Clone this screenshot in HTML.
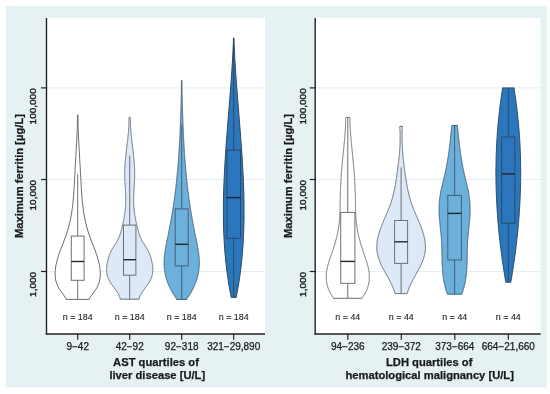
<!DOCTYPE html>
<html><head><meta charset="utf-8"><style>
html,body{margin:0;padding:0;background:#fff;width:550px;height:394px;overflow:hidden}
svg{display:block;will-change:transform}
text{font-family:"Liberation Sans",sans-serif;fill:#1a1a1a;stroke:#1a1a1a;stroke-width:0.25px}
.tk{font-size:10px}
.n{font-size:8.9px;stroke-width:0.1px}
.tt{font-size:11.2px;font-weight:bold}
</style></head><body>
<svg width="550" height="394" viewBox="0 0 550 394">
<rect x="6" y="6" width="541" height="381.4" fill="#e5f1f2"/>
<rect x="46.5" y="18" width="218.5" height="316.2" fill="#ffffff"/>
<line x1="46.5" y1="87.9" x2="265" y2="87.9" stroke="#e3eef0" stroke-width="1"/>
<line x1="46.5" y1="179.5" x2="265" y2="179.5" stroke="#e3eef0" stroke-width="1"/>
<line x1="46.5" y1="271.5" x2="265" y2="271.5" stroke="#e3eef0" stroke-width="1"/>
<path d="M78.0,115.0 L78.0,116.0 L78.0,117.0 L78.0,118.0 L78.0,119.0 L78.0,120.0 L78.0,121.0 L78.0,122.0 L78.0,123.0 L78.0,124.0 L78.0,125.0 L78.0,126.0 L78.1,127.0 L78.1,128.0 L78.2,129.0 L78.2,130.0 L78.2,131.0 L78.3,132.0 L78.3,133.0 L78.4,134.0 L78.4,135.0 L78.5,136.0 L78.5,137.0 L78.6,138.0 L78.6,139.0 L78.7,140.0 L78.7,141.0 L78.8,142.0 L78.8,143.0 L78.9,144.0 L78.9,145.0 L79.0,146.0 L79.0,147.0 L79.1,148.0 L79.2,149.0 L79.2,150.0 L79.3,151.0 L79.3,152.0 L79.4,153.0 L79.4,154.0 L79.5,155.0 L79.5,156.0 L79.6,157.0 L79.7,158.0 L79.7,159.0 L79.8,160.0 L79.8,161.0 L79.9,162.0 L79.9,163.0 L80.0,164.0 L80.1,165.0 L80.1,166.0 L80.2,167.0 L80.2,168.0 L80.3,169.0 L80.3,170.0 L80.4,171.0 L80.4,172.0 L80.5,173.0 L80.5,174.0 L80.6,175.0 L80.7,176.0 L80.7,177.0 L80.8,178.0 L80.8,179.0 L80.9,180.0 L80.9,181.0 L81.0,182.0 L81.0,183.0 L81.1,184.0 L81.1,185.0 L81.2,186.0 L81.2,187.0 L81.3,188.0 L81.4,189.0 L81.4,190.0 L81.5,191.0 L81.5,192.0 L81.6,193.0 L81.7,194.0 L81.8,195.0 L81.8,196.0 L81.9,197.0 L82.0,198.0 L82.1,199.0 L82.2,200.0 L82.3,201.0 L82.4,202.0 L82.5,203.0 L82.6,204.0 L82.7,205.0 L82.8,206.0 L82.9,207.0 L83.1,208.0 L83.2,209.0 L83.4,210.0 L83.5,211.0 L83.6,212.0 L83.8,213.0 L84.0,214.0 L84.1,215.0 L84.3,216.0 L84.5,217.0 L84.7,218.0 L84.9,219.0 L85.1,220.0 L85.3,221.0 L85.5,222.0 L85.8,223.0 L86.0,224.0 L86.3,225.0 L86.5,226.0 L86.8,227.0 L87.1,228.0 L87.4,229.0 L87.6,230.0 L87.9,231.0 L88.3,232.0 L88.6,233.0 L88.9,234.0 L89.3,235.0 L89.6,236.0 L90.0,237.0 L90.3,238.0 L90.7,239.0 L91.1,240.0 L91.5,241.0 L91.8,242.0 L92.2,243.0 L92.6,244.0 L93.0,245.0 L93.4,246.0 L93.8,247.0 L94.2,248.0 L94.5,249.0 L94.9,250.0 L95.3,251.0 L95.6,252.0 L96.0,253.0 L96.3,254.0 L96.7,255.0 L97.0,256.0 L97.3,257.0 L97.6,258.0 L97.9,259.0 L98.2,260.0 L98.5,261.0 L98.7,262.0 L99.0,263.0 L99.2,264.0 L99.4,265.0 L99.6,266.0 L99.8,267.0 L99.9,268.0 L100.0,269.0 L100.1,270.0 L100.2,271.0 L100.3,272.0 L100.3,273.0 L100.3,274.0 L100.3,275.0 L100.2,276.0 L100.1,277.0 L100.0,278.0 L99.9,279.0 L99.7,280.0 L99.5,281.0 L99.2,282.0 L98.9,283.0 L98.5,284.0 L98.1,285.0 L97.7,286.0 L97.2,287.0 L96.7,288.0 L96.1,289.0 L95.4,290.0 L94.7,291.0 L94.0,292.0 L93.3,293.0 L92.5,294.0 L91.8,295.0 L91.1,296.0 L90.4,297.0 L89.8,298.0 L89.3,299.0 L89.3,299.4 L66.1,299.4 L66.1,299.0 L65.6,298.0 L65.0,297.0 L64.3,296.0 L63.6,295.0 L62.9,294.0 L62.1,293.0 L61.4,292.0 L60.7,291.0 L60.0,290.0 L59.3,289.0 L58.7,288.0 L58.2,287.0 L57.7,286.0 L57.3,285.0 L56.9,284.0 L56.5,283.0 L56.2,282.0 L55.9,281.0 L55.7,280.0 L55.5,279.0 L55.4,278.0 L55.3,277.0 L55.2,276.0 L55.1,275.0 L55.1,274.0 L55.1,273.0 L55.1,272.0 L55.2,271.0 L55.3,270.0 L55.4,269.0 L55.5,268.0 L55.6,267.0 L55.8,266.0 L56.0,265.0 L56.2,264.0 L56.4,263.0 L56.7,262.0 L56.9,261.0 L57.2,260.0 L57.5,259.0 L57.8,258.0 L58.1,257.0 L58.4,256.0 L58.7,255.0 L59.1,254.0 L59.4,253.0 L59.8,252.0 L60.1,251.0 L60.5,250.0 L60.9,249.0 L61.2,248.0 L61.6,247.0 L62.0,246.0 L62.4,245.0 L62.8,244.0 L63.2,243.0 L63.6,242.0 L63.9,241.0 L64.3,240.0 L64.7,239.0 L65.1,238.0 L65.4,237.0 L65.8,236.0 L66.1,235.0 L66.5,234.0 L66.8,233.0 L67.1,232.0 L67.5,231.0 L67.8,230.0 L68.0,229.0 L68.3,228.0 L68.6,227.0 L68.9,226.0 L69.1,225.0 L69.4,224.0 L69.6,223.0 L69.9,222.0 L70.1,221.0 L70.3,220.0 L70.5,219.0 L70.7,218.0 L70.9,217.0 L71.1,216.0 L71.3,215.0 L71.4,214.0 L71.6,213.0 L71.8,212.0 L71.9,211.0 L72.0,210.0 L72.2,209.0 L72.3,208.0 L72.5,207.0 L72.6,206.0 L72.7,205.0 L72.8,204.0 L72.9,203.0 L73.0,202.0 L73.1,201.0 L73.2,200.0 L73.3,199.0 L73.4,198.0 L73.5,197.0 L73.6,196.0 L73.6,195.0 L73.7,194.0 L73.8,193.0 L73.9,192.0 L73.9,191.0 L74.0,190.0 L74.0,189.0 L74.1,188.0 L74.2,187.0 L74.2,186.0 L74.3,185.0 L74.3,184.0 L74.4,183.0 L74.4,182.0 L74.5,181.0 L74.5,180.0 L74.6,179.0 L74.6,178.0 L74.7,177.0 L74.7,176.0 L74.8,175.0 L74.9,174.0 L74.9,173.0 L75.0,172.0 L75.0,171.0 L75.1,170.0 L75.1,169.0 L75.2,168.0 L75.2,167.0 L75.3,166.0 L75.3,165.0 L75.4,164.0 L75.5,163.0 L75.5,162.0 L75.6,161.0 L75.6,160.0 L75.7,159.0 L75.7,158.0 L75.8,157.0 L75.9,156.0 L75.9,155.0 L76.0,154.0 L76.0,153.0 L76.1,152.0 L76.1,151.0 L76.2,150.0 L76.2,149.0 L76.3,148.0 L76.4,147.0 L76.4,146.0 L76.5,145.0 L76.5,144.0 L76.6,143.0 L76.6,142.0 L76.7,141.0 L76.7,140.0 L76.8,139.0 L76.8,138.0 L76.9,137.0 L76.9,136.0 L77.0,135.0 L77.0,134.0 L77.1,133.0 L77.1,132.0 L77.2,131.0 L77.2,130.0 L77.2,129.0 L77.3,128.0 L77.3,127.0 L77.4,126.0 L77.4,125.0 L77.4,124.0 L77.4,123.0 L77.4,122.0 L77.4,121.0 L77.4,120.0 L77.4,119.0 L77.4,118.0 L77.4,117.0 L77.4,116.0 L77.4,115.0 Z" fill="#ffffff" stroke="#707070" stroke-width="1.0" stroke-linejoin="round"/>
<line x1="77.7" y1="174.1" x2="77.7" y2="236.1" stroke="#707070" stroke-width="1.0"/>
<line x1="77.7" y1="280.3" x2="77.7" y2="299.4" stroke="#707070" stroke-width="1.0"/>
<rect x="71.3" y="236.1" width="12.8" height="44.20000000000002" fill="none" stroke="#707070" stroke-width="1.0"/>
<line x1="71.3" y1="261.5" x2="84.10000000000001" y2="261.5" stroke="#262626" stroke-width="1.4"/>
<path d="M130.3,117.4 L130.3,118.4 L130.4,119.4 L130.4,120.4 L130.4,121.4 L130.4,122.4 L130.4,123.4 L130.5,124.4 L130.5,125.4 L130.6,126.4 L130.6,127.4 L130.7,128.4 L130.8,129.4 L130.9,130.4 L130.9,131.4 L131.0,132.4 L131.1,133.4 L131.2,134.4 L131.3,135.4 L131.4,136.4 L131.5,137.4 L131.6,138.4 L131.7,139.4 L131.8,140.4 L131.9,141.4 L132.1,142.4 L132.2,143.4 L132.3,144.4 L132.4,145.4 L132.5,146.4 L132.6,147.4 L132.8,148.4 L132.9,149.4 L133.0,150.4 L133.1,151.4 L133.2,152.4 L133.3,153.4 L133.4,154.4 L133.5,155.4 L133.6,156.4 L133.7,157.4 L133.8,158.4 L133.9,159.4 L134.0,160.4 L134.1,161.4 L134.2,162.4 L134.3,163.4 L134.3,164.4 L134.4,165.4 L134.5,166.4 L134.5,167.4 L134.6,168.4 L134.6,169.4 L134.6,170.4 L134.7,171.4 L134.7,172.4 L134.7,173.4 L134.7,174.4 L134.7,175.4 L134.7,176.4 L134.6,177.4 L134.6,178.4 L134.6,179.4 L134.5,180.4 L134.5,181.4 L134.4,182.4 L134.4,183.4 L134.3,184.4 L134.3,185.4 L134.2,186.4 L134.1,187.4 L134.1,188.4 L134.0,189.4 L134.0,190.4 L133.9,191.4 L133.9,192.4 L133.8,193.4 L133.8,194.4 L133.7,195.4 L133.7,196.4 L133.7,197.4 L133.7,198.4 L133.6,199.4 L133.6,200.4 L133.7,201.4 L133.7,202.4 L133.7,203.4 L133.7,204.4 L133.8,205.4 L133.9,206.4 L133.9,207.4 L134.0,208.4 L134.1,209.4 L134.2,210.4 L134.3,211.4 L134.4,212.4 L134.6,213.4 L134.7,214.4 L134.9,215.4 L135.0,216.4 L135.2,217.4 L135.4,218.4 L135.6,219.4 L135.8,220.4 L136.0,221.4 L136.2,222.4 L136.4,223.4 L136.6,224.4 L136.9,225.4 L137.1,226.4 L137.3,227.4 L137.6,228.4 L137.9,229.4 L138.1,230.4 L138.4,231.4 L138.7,232.4 L139.0,233.4 L139.3,234.4 L139.7,235.4 L140.0,236.4 L140.4,237.4 L140.9,238.4 L141.4,239.4 L141.9,240.4 L142.4,241.4 L143.0,242.4 L143.7,243.4 L144.3,244.4 L145.0,245.4 L145.6,246.4 L146.3,247.4 L146.9,248.4 L147.4,249.4 L147.9,250.4 L148.4,251.4 L148.9,252.4 L149.3,253.4 L149.7,254.4 L150.1,255.4 L150.5,256.4 L150.8,257.4 L151.1,258.4 L151.3,259.4 L151.6,260.4 L151.8,261.4 L152.0,262.4 L152.2,263.4 L152.4,264.4 L152.5,265.4 L152.6,266.4 L152.7,267.4 L152.7,268.4 L152.8,269.4 L152.8,270.4 L152.7,271.4 L152.6,272.4 L152.5,273.4 L152.3,274.4 L152.1,275.4 L151.8,276.4 L151.5,277.4 L151.1,278.4 L150.7,279.4 L150.2,280.4 L149.7,281.4 L149.1,282.4 L148.4,283.4 L147.8,284.4 L147.0,285.4 L146.3,286.4 L145.6,287.4 L144.8,288.4 L144.1,289.4 L143.4,290.4 L142.7,291.4 L142.0,292.4 L141.4,293.4 L140.8,294.4 L140.3,295.4 L139.9,296.4 L139.5,297.4 L139.3,298.4 L139.1,299.2 L120.3,299.2 L120.1,298.4 L119.9,297.4 L119.5,296.4 L119.1,295.4 L118.6,294.4 L118.0,293.4 L117.4,292.4 L116.7,291.4 L116.0,290.4 L115.3,289.4 L114.6,288.4 L113.8,287.4 L113.1,286.4 L112.4,285.4 L111.6,284.4 L111.0,283.4 L110.3,282.4 L109.7,281.4 L109.2,280.4 L108.7,279.4 L108.3,278.4 L107.9,277.4 L107.6,276.4 L107.3,275.4 L107.1,274.4 L106.9,273.4 L106.8,272.4 L106.7,271.4 L106.6,270.4 L106.6,269.4 L106.7,268.4 L106.7,267.4 L106.8,266.4 L106.9,265.4 L107.0,264.4 L107.2,263.4 L107.4,262.4 L107.6,261.4 L107.8,260.4 L108.1,259.4 L108.3,258.4 L108.6,257.4 L108.9,256.4 L109.3,255.4 L109.7,254.4 L110.1,253.4 L110.5,252.4 L111.0,251.4 L111.5,250.4 L112.0,249.4 L112.5,248.4 L113.1,247.4 L113.8,246.4 L114.4,245.4 L115.1,244.4 L115.7,243.4 L116.4,242.4 L117.0,241.4 L117.5,240.4 L118.0,239.4 L118.5,238.4 L119.0,237.4 L119.4,236.4 L119.7,235.4 L120.1,234.4 L120.4,233.4 L120.7,232.4 L121.0,231.4 L121.3,230.4 L121.5,229.4 L121.8,228.4 L122.1,227.4 L122.3,226.4 L122.5,225.4 L122.8,224.4 L123.0,223.4 L123.2,222.4 L123.4,221.4 L123.6,220.4 L123.8,219.4 L124.0,218.4 L124.2,217.4 L124.4,216.4 L124.5,215.4 L124.7,214.4 L124.8,213.4 L125.0,212.4 L125.1,211.4 L125.2,210.4 L125.3,209.4 L125.4,208.4 L125.5,207.4 L125.5,206.4 L125.6,205.4 L125.7,204.4 L125.7,203.4 L125.7,202.4 L125.7,201.4 L125.8,200.4 L125.8,199.4 L125.7,198.4 L125.7,197.4 L125.7,196.4 L125.7,195.4 L125.6,194.4 L125.6,193.4 L125.5,192.4 L125.5,191.4 L125.4,190.4 L125.4,189.4 L125.3,188.4 L125.3,187.4 L125.2,186.4 L125.1,185.4 L125.1,184.4 L125.0,183.4 L125.0,182.4 L124.9,181.4 L124.9,180.4 L124.8,179.4 L124.8,178.4 L124.8,177.4 L124.7,176.4 L124.7,175.4 L124.7,174.4 L124.7,173.4 L124.7,172.4 L124.7,171.4 L124.8,170.4 L124.8,169.4 L124.8,168.4 L124.9,167.4 L124.9,166.4 L125.0,165.4 L125.1,164.4 L125.1,163.4 L125.2,162.4 L125.3,161.4 L125.4,160.4 L125.5,159.4 L125.6,158.4 L125.7,157.4 L125.8,156.4 L125.9,155.4 L126.0,154.4 L126.1,153.4 L126.2,152.4 L126.3,151.4 L126.4,150.4 L126.5,149.4 L126.6,148.4 L126.8,147.4 L126.9,146.4 L127.0,145.4 L127.1,144.4 L127.2,143.4 L127.3,142.4 L127.5,141.4 L127.6,140.4 L127.7,139.4 L127.8,138.4 L127.9,137.4 L128.0,136.4 L128.1,135.4 L128.2,134.4 L128.3,133.4 L128.4,132.4 L128.5,131.4 L128.5,130.4 L128.6,129.4 L128.7,128.4 L128.8,127.4 L128.8,126.4 L128.9,125.4 L128.9,124.4 L129.0,123.4 L129.0,122.4 L129.0,121.4 L129.0,120.4 L129.0,119.4 L129.1,118.4 L129.1,117.4 Z" fill="#dde9f6" stroke="#69727c" stroke-width="1.0" stroke-linejoin="round"/>
<line x1="129.7" y1="155.7" x2="129.7" y2="225.1" stroke="#69727c" stroke-width="1.0"/>
<line x1="129.7" y1="275.2" x2="129.7" y2="299.2" stroke="#69727c" stroke-width="1.0"/>
<rect x="123.49999999999999" y="225.1" width="12.4" height="50.099999999999994" fill="none" stroke="#69727c" stroke-width="1.0"/>
<line x1="123.49999999999999" y1="259.7" x2="135.89999999999998" y2="259.7" stroke="#262626" stroke-width="1.4"/>
<path d="M182.0,80.5 L182.0,81.5 L182.0,82.5 L182.0,83.5 L182.0,84.5 L182.0,85.5 L182.0,86.5 L182.0,87.5 L182.0,88.5 L182.0,89.5 L182.0,90.5 L182.0,91.5 L182.0,92.5 L182.0,93.5 L182.0,94.5 L182.1,95.5 L182.1,96.5 L182.1,97.5 L182.1,98.5 L182.2,99.5 L182.2,100.5 L182.2,101.5 L182.3,102.5 L182.3,103.5 L182.3,104.5 L182.3,105.5 L182.4,106.5 L182.4,107.5 L182.4,108.5 L182.5,109.5 L182.5,110.5 L182.5,111.5 L182.6,112.5 L182.6,113.5 L182.6,114.5 L182.7,115.5 L182.7,116.5 L182.7,117.5 L182.8,118.5 L182.8,119.5 L182.8,120.5 L182.9,121.5 L182.9,122.5 L183.0,123.5 L183.0,124.5 L183.0,125.5 L183.1,126.5 L183.1,127.5 L183.2,128.5 L183.2,129.5 L183.3,130.5 L183.3,131.5 L183.3,132.5 L183.4,133.5 L183.4,134.5 L183.5,135.5 L183.5,136.5 L183.6,137.5 L183.6,138.5 L183.7,139.5 L183.7,140.5 L183.8,141.5 L183.8,142.5 L183.9,143.5 L183.9,144.5 L184.0,145.5 L184.1,146.5 L184.1,147.5 L184.2,148.5 L184.2,149.5 L184.3,150.5 L184.4,151.5 L184.4,152.5 L184.5,153.5 L184.6,154.5 L184.6,155.5 L184.7,156.5 L184.8,157.5 L184.8,158.5 L184.9,159.5 L185.0,160.5 L185.1,161.5 L185.1,162.5 L185.2,163.5 L185.3,164.5 L185.4,165.5 L185.5,166.5 L185.5,167.5 L185.6,168.5 L185.7,169.5 L185.8,170.5 L185.9,171.5 L186.0,172.5 L186.1,173.5 L186.2,174.5 L186.3,175.5 L186.4,176.5 L186.5,177.5 L186.6,178.5 L186.7,179.5 L186.8,180.5 L186.9,181.5 L187.0,182.5 L187.1,183.5 L187.2,184.5 L187.3,185.5 L187.4,186.5 L187.5,187.5 L187.7,188.5 L187.8,189.5 L187.9,190.5 L188.0,191.5 L188.2,192.5 L188.3,193.5 L188.4,194.5 L188.5,195.5 L188.7,196.5 L188.8,197.5 L188.9,198.5 L189.1,199.5 L189.2,200.5 L189.4,201.5 L189.5,202.5 L189.7,203.5 L189.8,204.5 L190.0,205.5 L190.1,206.5 L190.3,207.5 L190.4,208.5 L190.6,209.5 L190.7,210.5 L190.9,211.5 L191.1,212.5 L191.2,213.5 L191.4,214.5 L191.6,215.5 L191.8,216.5 L191.9,217.5 L192.1,218.5 L192.3,219.5 L192.5,220.5 L192.7,221.5 L192.8,222.5 L193.0,223.5 L193.2,224.5 L193.4,225.5 L193.6,226.5 L193.8,227.5 L194.0,228.5 L194.2,229.5 L194.4,230.5 L194.6,231.5 L194.7,232.5 L194.9,233.5 L195.1,234.5 L195.3,235.5 L195.5,236.5 L195.7,237.5 L195.9,238.5 L196.2,239.5 L196.4,240.5 L196.6,241.5 L196.8,242.5 L197.0,243.5 L197.2,244.5 L197.4,245.5 L197.5,246.5 L197.7,247.5 L197.9,248.5 L198.1,249.5 L198.2,250.5 L198.4,251.5 L198.5,252.5 L198.7,253.5 L198.8,254.5 L198.9,255.5 L199.0,256.5 L199.1,257.5 L199.2,258.5 L199.2,259.5 L199.3,260.5 L199.3,261.5 L199.3,262.5 L199.3,263.5 L199.3,264.5 L199.3,265.5 L199.2,266.5 L199.1,267.5 L199.0,268.5 L198.9,269.5 L198.8,270.5 L198.6,271.5 L198.5,272.5 L198.3,273.5 L198.1,274.5 L197.9,275.5 L197.6,276.5 L197.4,277.5 L197.1,278.5 L196.8,279.5 L196.5,280.5 L196.1,281.5 L195.8,282.5 L195.4,283.5 L195.0,284.5 L194.5,285.5 L194.1,286.5 L193.6,287.5 L193.1,288.5 L192.6,289.5 L192.1,290.5 L191.6,291.5 L191.0,292.5 L190.4,293.5 L189.8,294.5 L189.1,295.5 L188.5,296.5 L187.8,297.5 L187.1,298.5 L186.8,299.4 L176.6,299.4 L176.3,298.5 L175.6,297.5 L174.9,296.5 L174.3,295.5 L173.6,294.5 L173.0,293.5 L172.4,292.5 L171.8,291.5 L171.3,290.5 L170.8,289.5 L170.3,288.5 L169.8,287.5 L169.3,286.5 L168.9,285.5 L168.4,284.5 L168.0,283.5 L167.6,282.5 L167.3,281.5 L166.9,280.5 L166.6,279.5 L166.3,278.5 L166.0,277.5 L165.8,276.5 L165.5,275.5 L165.3,274.5 L165.1,273.5 L164.9,272.5 L164.8,271.5 L164.6,270.5 L164.5,269.5 L164.4,268.5 L164.3,267.5 L164.2,266.5 L164.1,265.5 L164.1,264.5 L164.1,263.5 L164.1,262.5 L164.1,261.5 L164.1,260.5 L164.2,259.5 L164.2,258.5 L164.3,257.5 L164.4,256.5 L164.5,255.5 L164.6,254.5 L164.7,253.5 L164.9,252.5 L165.0,251.5 L165.2,250.5 L165.3,249.5 L165.5,248.5 L165.7,247.5 L165.9,246.5 L166.0,245.5 L166.2,244.5 L166.4,243.5 L166.6,242.5 L166.8,241.5 L167.0,240.5 L167.2,239.5 L167.5,238.5 L167.7,237.5 L167.9,236.5 L168.1,235.5 L168.3,234.5 L168.5,233.5 L168.7,232.5 L168.8,231.5 L169.0,230.5 L169.2,229.5 L169.4,228.5 L169.6,227.5 L169.8,226.5 L170.0,225.5 L170.2,224.5 L170.4,223.5 L170.6,222.5 L170.7,221.5 L170.9,220.5 L171.1,219.5 L171.3,218.5 L171.5,217.5 L171.6,216.5 L171.8,215.5 L172.0,214.5 L172.2,213.5 L172.3,212.5 L172.5,211.5 L172.7,210.5 L172.8,209.5 L173.0,208.5 L173.1,207.5 L173.3,206.5 L173.4,205.5 L173.6,204.5 L173.7,203.5 L173.9,202.5 L174.0,201.5 L174.2,200.5 L174.3,199.5 L174.5,198.5 L174.6,197.5 L174.7,196.5 L174.9,195.5 L175.0,194.5 L175.1,193.5 L175.2,192.5 L175.4,191.5 L175.5,190.5 L175.6,189.5 L175.7,188.5 L175.9,187.5 L176.0,186.5 L176.1,185.5 L176.2,184.5 L176.3,183.5 L176.4,182.5 L176.5,181.5 L176.6,180.5 L176.7,179.5 L176.8,178.5 L176.9,177.5 L177.0,176.5 L177.1,175.5 L177.2,174.5 L177.3,173.5 L177.4,172.5 L177.5,171.5 L177.6,170.5 L177.7,169.5 L177.8,168.5 L177.9,167.5 L177.9,166.5 L178.0,165.5 L178.1,164.5 L178.2,163.5 L178.3,162.5 L178.3,161.5 L178.4,160.5 L178.5,159.5 L178.6,158.5 L178.6,157.5 L178.7,156.5 L178.8,155.5 L178.8,154.5 L178.9,153.5 L179.0,152.5 L179.0,151.5 L179.1,150.5 L179.2,149.5 L179.2,148.5 L179.3,147.5 L179.3,146.5 L179.4,145.5 L179.5,144.5 L179.5,143.5 L179.6,142.5 L179.6,141.5 L179.7,140.5 L179.7,139.5 L179.8,138.5 L179.8,137.5 L179.9,136.5 L179.9,135.5 L180.0,134.5 L180.0,133.5 L180.1,132.5 L180.1,131.5 L180.1,130.5 L180.2,129.5 L180.2,128.5 L180.3,127.5 L180.3,126.5 L180.4,125.5 L180.4,124.5 L180.4,123.5 L180.5,122.5 L180.5,121.5 L180.6,120.5 L180.6,119.5 L180.6,118.5 L180.7,117.5 L180.7,116.5 L180.7,115.5 L180.8,114.5 L180.8,113.5 L180.8,112.5 L180.9,111.5 L180.9,110.5 L180.9,109.5 L181.0,108.5 L181.0,107.5 L181.0,106.5 L181.1,105.5 L181.1,104.5 L181.1,103.5 L181.1,102.5 L181.2,101.5 L181.2,100.5 L181.2,99.5 L181.3,98.5 L181.3,97.5 L181.3,96.5 L181.3,95.5 L181.4,94.5 L181.4,93.5 L181.4,92.5 L181.4,91.5 L181.4,90.5 L181.4,89.5 L181.4,88.5 L181.4,87.5 L181.4,86.5 L181.4,85.5 L181.4,84.5 L181.4,83.5 L181.4,82.5 L181.4,81.5 L181.4,80.5 Z" fill="#6cb0dc" stroke="#46617a" stroke-width="1.0" stroke-linejoin="round"/>
<line x1="181.7" y1="124.5" x2="181.7" y2="208.9" stroke="#46617a" stroke-width="1.0"/>
<line x1="181.7" y1="265.9" x2="181.7" y2="299.4" stroke="#46617a" stroke-width="1.0"/>
<rect x="175.2" y="208.9" width="13.0" height="56.99999999999997" fill="none" stroke="#46617a" stroke-width="1.0"/>
<line x1="175.2" y1="244.3" x2="188.2" y2="244.3" stroke="#262626" stroke-width="1.4"/>
<path d="M234.0,38.0 L234.0,39.0 L234.0,40.0 L234.0,41.0 L234.0,42.0 L234.0,43.0 L234.1,44.0 L234.1,45.0 L234.2,46.0 L234.2,47.0 L234.3,48.0 L234.3,49.0 L234.4,50.0 L234.4,51.0 L234.5,52.0 L234.5,53.0 L234.6,54.0 L234.6,55.0 L234.7,56.0 L234.7,57.0 L234.8,58.0 L234.8,59.0 L234.9,60.0 L234.9,61.0 L235.0,62.0 L235.1,63.0 L235.1,64.0 L235.2,65.0 L235.3,66.0 L235.3,67.0 L235.4,68.0 L235.4,69.0 L235.5,70.0 L235.6,71.0 L235.6,72.0 L235.7,73.0 L235.8,74.0 L235.8,75.0 L235.9,76.0 L236.0,77.0 L236.1,78.0 L236.1,79.0 L236.2,80.0 L236.3,81.0 L236.3,82.0 L236.4,83.0 L236.5,84.0 L236.6,85.0 L236.6,86.0 L236.7,87.0 L236.8,88.0 L236.9,89.0 L236.9,90.0 L237.0,91.0 L237.1,92.0 L237.2,93.0 L237.3,94.0 L237.3,95.0 L237.4,96.0 L237.5,97.0 L237.6,98.0 L237.6,99.0 L237.7,100.0 L237.8,101.0 L237.9,102.0 L238.0,103.0 L238.0,104.0 L238.1,105.0 L238.2,106.0 L238.3,107.0 L238.4,108.0 L238.4,109.0 L238.5,110.0 L238.6,111.0 L238.7,112.0 L238.8,113.0 L238.8,114.0 L238.9,115.0 L239.0,116.0 L239.1,117.0 L239.2,118.0 L239.3,119.0 L239.3,120.0 L239.4,121.0 L239.5,122.0 L239.6,123.0 L239.7,124.0 L239.7,125.0 L239.8,126.0 L239.9,127.0 L240.0,128.0 L240.0,129.0 L240.1,130.0 L240.2,131.0 L240.3,132.0 L240.4,133.0 L240.4,134.0 L240.5,135.0 L240.6,136.0 L240.7,137.0 L240.7,138.0 L240.8,139.0 L240.9,140.0 L241.0,141.0 L241.0,142.0 L241.1,143.0 L241.2,144.0 L241.3,145.0 L241.3,146.0 L241.4,147.0 L241.5,148.0 L241.5,149.0 L241.6,150.0 L241.7,151.0 L241.7,152.0 L241.8,153.0 L241.9,154.0 L241.9,155.0 L242.0,156.0 L242.1,157.0 L242.1,158.0 L242.2,159.0 L242.3,160.0 L242.3,161.0 L242.4,162.0 L242.4,163.0 L242.5,164.0 L242.6,165.0 L242.6,166.0 L242.7,167.0 L242.7,168.0 L242.8,169.0 L242.8,170.0 L242.9,171.0 L242.9,172.0 L243.0,173.0 L243.0,174.0 L243.1,175.0 L243.1,176.0 L243.2,177.0 L243.2,178.0 L243.3,179.0 L243.3,180.0 L243.4,181.0 L243.4,182.0 L243.4,183.0 L243.5,184.0 L243.5,185.0 L243.6,186.0 L243.6,187.0 L243.6,188.0 L243.7,189.0 L243.7,190.0 L243.7,191.0 L243.8,192.0 L243.8,193.0 L243.8,194.0 L243.8,195.0 L243.9,196.0 L243.9,197.0 L243.9,198.0 L243.9,199.0 L243.9,200.0 L244.0,201.0 L244.0,202.0 L244.0,203.0 L244.0,204.0 L244.0,205.0 L244.0,206.0 L244.0,207.0 L244.0,208.0 L244.0,209.0 L244.0,210.0 L244.0,211.0 L244.0,212.0 L244.0,213.0 L244.0,214.0 L244.0,215.0 L244.0,216.0 L244.0,217.0 L244.0,218.0 L244.0,219.0 L244.0,220.0 L244.0,221.0 L243.9,222.0 L243.9,223.0 L243.9,224.0 L243.9,225.0 L243.8,226.0 L243.8,227.0 L243.8,228.0 L243.8,229.0 L243.7,230.0 L243.7,231.0 L243.7,232.0 L243.6,233.0 L243.6,234.0 L243.5,235.0 L243.5,236.0 L243.4,237.0 L243.4,238.0 L243.3,239.0 L243.3,240.0 L243.2,241.0 L243.2,242.0 L243.1,243.0 L243.1,244.0 L243.0,245.0 L242.9,246.0 L242.9,247.0 L242.8,248.0 L242.7,249.0 L242.6,250.0 L242.6,251.0 L242.5,252.0 L242.4,253.0 L242.3,254.0 L242.2,255.0 L242.1,256.0 L242.0,257.0 L241.9,258.0 L241.9,259.0 L241.8,260.0 L241.7,261.0 L241.6,262.0 L241.4,263.0 L241.3,264.0 L241.2,265.0 L241.1,266.0 L241.0,267.0 L240.9,268.0 L240.8,269.0 L240.6,270.0 L240.5,271.0 L240.4,272.0 L240.2,273.0 L240.1,274.0 L240.0,275.0 L239.8,276.0 L239.7,277.0 L239.5,278.0 L239.4,279.0 L239.2,280.0 L239.1,281.0 L238.9,282.0 L238.8,283.0 L238.6,284.0 L238.5,285.0 L238.3,286.0 L238.1,287.0 L237.9,288.0 L237.8,289.0 L237.6,290.0 L237.4,291.0 L237.2,292.0 L237.0,293.0 L236.8,294.0 L236.6,295.0 L236.4,296.0 L236.2,297.0 L236.3,297.4 L231.1,297.4 L231.2,297.0 L231.0,296.0 L230.8,295.0 L230.6,294.0 L230.4,293.0 L230.2,292.0 L230.0,291.0 L229.8,290.0 L229.6,289.0 L229.5,288.0 L229.3,287.0 L229.1,286.0 L228.9,285.0 L228.8,284.0 L228.6,283.0 L228.5,282.0 L228.3,281.0 L228.2,280.0 L228.0,279.0 L227.9,278.0 L227.7,277.0 L227.6,276.0 L227.4,275.0 L227.3,274.0 L227.2,273.0 L227.0,272.0 L226.9,271.0 L226.8,270.0 L226.6,269.0 L226.5,268.0 L226.4,267.0 L226.3,266.0 L226.2,265.0 L226.1,264.0 L226.0,263.0 L225.8,262.0 L225.7,261.0 L225.6,260.0 L225.5,259.0 L225.5,258.0 L225.4,257.0 L225.3,256.0 L225.2,255.0 L225.1,254.0 L225.0,253.0 L224.9,252.0 L224.8,251.0 L224.8,250.0 L224.7,249.0 L224.6,248.0 L224.5,247.0 L224.5,246.0 L224.4,245.0 L224.3,244.0 L224.3,243.0 L224.2,242.0 L224.2,241.0 L224.1,240.0 L224.1,239.0 L224.0,238.0 L224.0,237.0 L223.9,236.0 L223.9,235.0 L223.8,234.0 L223.8,233.0 L223.7,232.0 L223.7,231.0 L223.7,230.0 L223.6,229.0 L223.6,228.0 L223.6,227.0 L223.6,226.0 L223.5,225.0 L223.5,224.0 L223.5,223.0 L223.5,222.0 L223.4,221.0 L223.4,220.0 L223.4,219.0 L223.4,218.0 L223.4,217.0 L223.4,216.0 L223.4,215.0 L223.4,214.0 L223.4,213.0 L223.4,212.0 L223.4,211.0 L223.4,210.0 L223.4,209.0 L223.4,208.0 L223.4,207.0 L223.4,206.0 L223.4,205.0 L223.4,204.0 L223.4,203.0 L223.4,202.0 L223.4,201.0 L223.5,200.0 L223.5,199.0 L223.5,198.0 L223.5,197.0 L223.5,196.0 L223.6,195.0 L223.6,194.0 L223.6,193.0 L223.6,192.0 L223.7,191.0 L223.7,190.0 L223.7,189.0 L223.8,188.0 L223.8,187.0 L223.8,186.0 L223.9,185.0 L223.9,184.0 L224.0,183.0 L224.0,182.0 L224.0,181.0 L224.1,180.0 L224.1,179.0 L224.2,178.0 L224.2,177.0 L224.3,176.0 L224.3,175.0 L224.4,174.0 L224.4,173.0 L224.5,172.0 L224.5,171.0 L224.6,170.0 L224.6,169.0 L224.7,168.0 L224.7,167.0 L224.8,166.0 L224.8,165.0 L224.9,164.0 L225.0,163.0 L225.0,162.0 L225.1,161.0 L225.1,160.0 L225.2,159.0 L225.3,158.0 L225.3,157.0 L225.4,156.0 L225.5,155.0 L225.5,154.0 L225.6,153.0 L225.7,152.0 L225.7,151.0 L225.8,150.0 L225.9,149.0 L225.9,148.0 L226.0,147.0 L226.1,146.0 L226.1,145.0 L226.2,144.0 L226.3,143.0 L226.4,142.0 L226.4,141.0 L226.5,140.0 L226.6,139.0 L226.7,138.0 L226.7,137.0 L226.8,136.0 L226.9,135.0 L227.0,134.0 L227.0,133.0 L227.1,132.0 L227.2,131.0 L227.3,130.0 L227.4,129.0 L227.4,128.0 L227.5,127.0 L227.6,126.0 L227.7,125.0 L227.7,124.0 L227.8,123.0 L227.9,122.0 L228.0,121.0 L228.1,120.0 L228.1,119.0 L228.2,118.0 L228.3,117.0 L228.4,116.0 L228.5,115.0 L228.6,114.0 L228.6,113.0 L228.7,112.0 L228.8,111.0 L228.9,110.0 L229.0,109.0 L229.0,108.0 L229.1,107.0 L229.2,106.0 L229.3,105.0 L229.4,104.0 L229.4,103.0 L229.5,102.0 L229.6,101.0 L229.7,100.0 L229.8,99.0 L229.8,98.0 L229.9,97.0 L230.0,96.0 L230.1,95.0 L230.1,94.0 L230.2,93.0 L230.3,92.0 L230.4,91.0 L230.5,90.0 L230.5,89.0 L230.6,88.0 L230.7,87.0 L230.8,86.0 L230.8,85.0 L230.9,84.0 L231.0,83.0 L231.1,82.0 L231.1,81.0 L231.2,80.0 L231.3,79.0 L231.3,78.0 L231.4,77.0 L231.5,76.0 L231.6,75.0 L231.6,74.0 L231.7,73.0 L231.8,72.0 L231.8,71.0 L231.9,70.0 L232.0,69.0 L232.0,68.0 L232.1,67.0 L232.1,66.0 L232.2,65.0 L232.3,64.0 L232.3,63.0 L232.4,62.0 L232.5,61.0 L232.5,60.0 L232.6,59.0 L232.6,58.0 L232.7,57.0 L232.7,56.0 L232.8,55.0 L232.8,54.0 L232.9,53.0 L232.9,52.0 L233.0,51.0 L233.0,50.0 L233.1,49.0 L233.1,48.0 L233.2,47.0 L233.2,46.0 L233.3,45.0 L233.3,44.0 L233.4,43.0 L233.4,42.0 L233.4,41.0 L233.4,40.0 L233.4,39.0 L233.4,38.0 Z" fill="#2a77bd" stroke="#2d4a66" stroke-width="1.0" stroke-linejoin="round"/>
<line x1="233.7" y1="38" x2="233.7" y2="150.2" stroke="#2d4a66" stroke-width="1.0"/>
<line x1="233.7" y1="238.3" x2="233.7" y2="297.4" stroke="#2d4a66" stroke-width="1.0"/>
<rect x="226.89999999999998" y="150.2" width="13.6" height="88.10000000000002" fill="none" stroke="#2d4a66" stroke-width="1.0"/>
<line x1="226.89999999999998" y1="197.6" x2="240.5" y2="197.6" stroke="#262626" stroke-width="1.4"/>
<line x1="46.5" y1="18" x2="46.5" y2="334.6" stroke="#222" stroke-width="1.4"/>
<line x1="45.8" y1="333.9" x2="265" y2="333.9" stroke="#222" stroke-width="1.5"/>
<line x1="41.0" y1="87.9" x2="46.5" y2="87.9" stroke="#222" stroke-width="1.2"/>
<text x="0" y="0" transform="translate(36.4 88.30000000000001) rotate(-90) scale(1 0.97)" text-anchor="end" class="tk" style="stroke-width:0.4px">100,000</text>
<line x1="41.0" y1="179.5" x2="46.5" y2="179.5" stroke="#222" stroke-width="1.2"/>
<text x="0" y="0" transform="translate(36.4 179.9) rotate(-90) scale(1 0.97)" text-anchor="end" class="tk" style="stroke-width:0.4px">10,000</text>
<line x1="41.0" y1="271.5" x2="46.5" y2="271.5" stroke="#222" stroke-width="1.2"/>
<text x="0" y="0" transform="translate(36.4 271.9) rotate(-90) scale(1 0.97)" text-anchor="end" class="tk" style="stroke-width:0.4px">1,000</text>
<line x1="77.7" y1="333.9" x2="77.7" y2="339.8" stroke="#222" stroke-width="1.2"/>
<text x="0" y="0" transform="translate(77.7 350)" text-anchor="middle" class="tk">9−42</text>
<text x="0" y="0" transform="translate(77.7 320.2)" text-anchor="middle" class="n">n = 184</text>
<line x1="129.7" y1="333.9" x2="129.7" y2="339.8" stroke="#222" stroke-width="1.2"/>
<text x="0" y="0" transform="translate(129.7 350)" text-anchor="middle" class="tk">42−92</text>
<text x="0" y="0" transform="translate(129.7 320.2)" text-anchor="middle" class="n">n = 184</text>
<line x1="181.7" y1="333.9" x2="181.7" y2="339.8" stroke="#222" stroke-width="1.2"/>
<text x="0" y="0" transform="translate(181.7 350)" text-anchor="middle" class="tk">92−318</text>
<text x="0" y="0" transform="translate(181.7 320.2)" text-anchor="middle" class="n">n = 184</text>
<line x1="233.7" y1="333.9" x2="233.7" y2="339.8" stroke="#222" stroke-width="1.2"/>
<text x="0" y="0" transform="translate(233.7 350)" text-anchor="middle" class="tk">321−29,890</text>
<text x="0" y="0" transform="translate(233.7 320.2)" text-anchor="middle" class="n">n = 184</text>
<text x="23.0" y="176" transform="rotate(-90 23.0 176)" text-anchor="middle" class="tt">Maximum ferritin [µg/L]</text>
<rect x="315.2" y="18" width="225.50000000000006" height="316.2" fill="#ffffff"/>
<line x1="315.2" y1="87.9" x2="540.7" y2="87.9" stroke="#e3eef0" stroke-width="1"/>
<line x1="315.2" y1="179.5" x2="540.7" y2="179.5" stroke="#e3eef0" stroke-width="1"/>
<line x1="315.2" y1="271.5" x2="540.7" y2="271.5" stroke="#e3eef0" stroke-width="1"/>
<path d="M349.7,117.4 L349.9,118.4 L349.9,119.4 L349.9,120.4 L349.9,121.4 L350.0,122.4 L350.0,123.4 L350.0,124.4 L350.1,125.4 L350.1,126.4 L350.2,127.4 L350.2,128.4 L350.3,129.4 L350.3,130.4 L350.4,131.4 L350.5,132.4 L350.6,133.4 L350.6,134.4 L350.7,135.4 L350.8,136.4 L350.9,137.4 L350.9,138.4 L351.0,139.4 L351.1,140.4 L351.2,141.4 L351.3,142.4 L351.4,143.4 L351.5,144.4 L351.6,145.4 L351.7,146.4 L351.8,147.4 L351.9,148.4 L352.0,149.4 L352.1,150.4 L352.2,151.4 L352.3,152.4 L352.4,153.4 L352.5,154.4 L352.6,155.4 L352.7,156.4 L352.8,157.4 L352.9,158.4 L353.0,159.4 L353.1,160.4 L353.2,161.4 L353.3,162.4 L353.4,163.4 L353.5,164.4 L353.5,165.4 L353.6,166.4 L353.7,167.4 L353.8,168.4 L353.9,169.4 L354.0,170.4 L354.1,171.4 L354.1,172.4 L354.2,173.4 L354.3,174.4 L354.4,175.4 L354.4,176.4 L354.5,177.4 L354.6,178.4 L354.6,179.4 L354.7,180.4 L354.7,181.4 L354.8,182.4 L354.8,183.4 L354.9,184.4 L354.9,185.4 L355.0,186.4 L355.0,187.4 L355.1,188.4 L355.1,189.4 L355.1,190.4 L355.2,191.4 L355.2,192.4 L355.2,193.4 L355.3,194.4 L355.3,195.4 L355.3,196.4 L355.3,197.4 L355.4,198.4 L355.4,199.4 L355.4,200.4 L355.4,201.4 L355.4,202.4 L355.5,203.4 L355.5,204.4 L355.5,205.4 L355.5,206.4 L355.5,207.4 L355.6,208.4 L355.6,209.4 L355.6,210.4 L355.6,211.4 L355.6,212.4 L355.7,213.4 L355.7,214.4 L355.8,215.4 L355.8,216.4 L355.9,217.4 L355.9,218.4 L356.0,219.4 L356.1,220.4 L356.2,221.4 L356.3,222.4 L356.4,223.4 L356.6,224.4 L356.7,225.4 L356.8,226.4 L357.0,227.4 L357.2,228.4 L357.3,229.4 L357.5,230.4 L357.7,231.4 L357.9,232.4 L358.1,233.4 L358.3,234.4 L358.5,235.4 L358.8,236.4 L359.0,237.4 L359.3,238.4 L359.5,239.4 L359.8,240.4 L360.1,241.4 L360.3,242.4 L360.6,243.4 L360.9,244.4 L361.2,245.4 L361.5,246.4 L361.8,247.4 L362.2,248.4 L362.5,249.4 L362.8,250.4 L363.2,251.4 L363.5,252.4 L363.8,253.4 L364.2,254.4 L364.5,255.4 L364.9,256.4 L365.2,257.4 L365.6,258.4 L365.9,259.4 L366.2,260.4 L366.6,261.4 L366.9,262.4 L367.2,263.4 L367.4,264.4 L367.7,265.4 L368.0,266.4 L368.2,267.4 L368.4,268.4 L368.6,269.4 L368.8,270.4 L369.0,271.4 L369.1,272.4 L369.2,273.4 L369.3,274.4 L369.3,275.4 L369.4,276.4 L369.4,277.4 L369.3,278.4 L369.3,279.4 L369.2,280.4 L369.1,281.4 L368.9,282.4 L368.8,283.4 L368.5,284.4 L368.3,285.4 L368.0,286.4 L367.7,287.4 L367.4,288.4 L367.0,289.4 L366.6,290.4 L366.1,291.4 L365.6,292.4 L365.1,293.4 L364.5,294.4 L363.9,295.4 L363.2,296.4 L362.6,297.4 L362.1,298.3 L333.5,298.3 L333.0,297.4 L332.4,296.4 L331.7,295.4 L331.1,294.4 L330.5,293.4 L330.0,292.4 L329.5,291.4 L329.0,290.4 L328.6,289.4 L328.2,288.4 L327.9,287.4 L327.6,286.4 L327.3,285.4 L327.1,284.4 L326.8,283.4 L326.7,282.4 L326.5,281.4 L326.4,280.4 L326.3,279.4 L326.3,278.4 L326.2,277.4 L326.2,276.4 L326.3,275.4 L326.3,274.4 L326.4,273.4 L326.5,272.4 L326.6,271.4 L326.8,270.4 L327.0,269.4 L327.2,268.4 L327.4,267.4 L327.6,266.4 L327.9,265.4 L328.2,264.4 L328.4,263.4 L328.7,262.4 L329.0,261.4 L329.4,260.4 L329.7,259.4 L330.0,258.4 L330.4,257.4 L330.7,256.4 L331.1,255.4 L331.4,254.4 L331.8,253.4 L332.1,252.4 L332.4,251.4 L332.8,250.4 L333.1,249.4 L333.4,248.4 L333.8,247.4 L334.1,246.4 L334.4,245.4 L334.7,244.4 L335.0,243.4 L335.3,242.4 L335.5,241.4 L335.8,240.4 L336.1,239.4 L336.3,238.4 L336.6,237.4 L336.8,236.4 L337.1,235.4 L337.3,234.4 L337.5,233.4 L337.7,232.4 L337.9,231.4 L338.1,230.4 L338.3,229.4 L338.4,228.4 L338.6,227.4 L338.8,226.4 L338.9,225.4 L339.0,224.4 L339.2,223.4 L339.3,222.4 L339.4,221.4 L339.5,220.4 L339.6,219.4 L339.7,218.4 L339.7,217.4 L339.8,216.4 L339.8,215.4 L339.9,214.4 L339.9,213.4 L340.0,212.4 L340.0,211.4 L340.0,210.4 L340.0,209.4 L340.0,208.4 L340.1,207.4 L340.1,206.4 L340.1,205.4 L340.1,204.4 L340.1,203.4 L340.2,202.4 L340.2,201.4 L340.2,200.4 L340.2,199.4 L340.2,198.4 L340.3,197.4 L340.3,196.4 L340.3,195.4 L340.3,194.4 L340.4,193.4 L340.4,192.4 L340.4,191.4 L340.5,190.4 L340.5,189.4 L340.5,188.4 L340.6,187.4 L340.6,186.4 L340.7,185.4 L340.7,184.4 L340.8,183.4 L340.8,182.4 L340.9,181.4 L340.9,180.4 L341.0,179.4 L341.0,178.4 L341.1,177.4 L341.2,176.4 L341.2,175.4 L341.3,174.4 L341.4,173.4 L341.5,172.4 L341.5,171.4 L341.6,170.4 L341.7,169.4 L341.8,168.4 L341.9,167.4 L342.0,166.4 L342.1,165.4 L342.1,164.4 L342.2,163.4 L342.3,162.4 L342.4,161.4 L342.5,160.4 L342.6,159.4 L342.7,158.4 L342.8,157.4 L342.9,156.4 L343.0,155.4 L343.1,154.4 L343.2,153.4 L343.3,152.4 L343.4,151.4 L343.5,150.4 L343.6,149.4 L343.7,148.4 L343.8,147.4 L343.9,146.4 L344.0,145.4 L344.1,144.4 L344.2,143.4 L344.3,142.4 L344.4,141.4 L344.5,140.4 L344.6,139.4 L344.7,138.4 L344.7,137.4 L344.8,136.4 L344.9,135.4 L345.0,134.4 L345.0,133.4 L345.1,132.4 L345.2,131.4 L345.3,130.4 L345.3,129.4 L345.4,128.4 L345.4,127.4 L345.5,126.4 L345.5,125.4 L345.6,124.4 L345.6,123.4 L345.6,122.4 L345.7,121.4 L345.7,120.4 L345.7,119.4 L345.7,118.4 L345.9,117.4 Z" fill="#ffffff" stroke="#707070" stroke-width="1.0" stroke-linejoin="round"/>
<line x1="347.8" y1="117.4" x2="347.8" y2="212.4" stroke="#707070" stroke-width="1.0"/>
<line x1="347.8" y1="283.3" x2="347.8" y2="298.3" stroke="#707070" stroke-width="1.0"/>
<rect x="340.7" y="212.4" width="14.2" height="70.9" fill="none" stroke="#707070" stroke-width="1.0"/>
<line x1="340.7" y1="261.4" x2="354.90000000000003" y2="261.4" stroke="#262626" stroke-width="1.4"/>
<path d="M402.5,126.3 L402.4,127.3 L402.4,128.3 L402.3,129.3 L402.2,130.3 L402.2,131.3 L402.1,132.3 L402.1,133.3 L402.1,134.3 L402.1,135.3 L402.1,136.3 L402.1,137.3 L402.1,138.3 L402.1,139.3 L402.1,140.3 L402.1,141.3 L402.1,142.3 L402.2,143.3 L402.2,144.3 L402.2,145.3 L402.3,146.3 L402.3,147.3 L402.4,148.3 L402.5,149.3 L402.5,150.3 L402.6,151.3 L402.7,152.3 L402.8,153.3 L402.8,154.3 L402.9,155.3 L403.0,156.3 L403.1,157.3 L403.2,158.3 L403.3,159.3 L403.5,160.3 L403.6,161.3 L403.7,162.3 L403.8,163.3 L403.9,164.3 L404.0,165.3 L404.2,166.3 L404.3,167.3 L404.4,168.3 L404.6,169.3 L404.7,170.3 L404.8,171.3 L405.0,172.3 L405.1,173.3 L405.3,174.3 L405.4,175.3 L405.5,176.3 L405.7,177.3 L405.8,178.3 L406.0,179.3 L406.1,180.3 L406.3,181.3 L406.5,182.3 L406.6,183.3 L406.8,184.3 L407.0,185.3 L407.2,186.3 L407.3,187.3 L407.5,188.3 L407.7,189.3 L407.9,190.3 L408.2,191.3 L408.4,192.3 L408.6,193.3 L408.9,194.3 L409.1,195.3 L409.4,196.3 L409.6,197.3 L409.9,198.3 L410.2,199.3 L410.5,200.3 L410.8,201.3 L411.1,202.3 L411.4,203.3 L411.8,204.3 L412.1,205.3 L412.5,206.3 L412.9,207.3 L413.3,208.3 L413.7,209.3 L414.1,210.3 L414.5,211.3 L414.9,212.3 L415.4,213.3 L415.8,214.3 L416.2,215.3 L416.7,216.3 L417.1,217.3 L417.5,218.3 L418.0,219.3 L418.4,220.3 L418.8,221.3 L419.2,222.3 L419.6,223.3 L420.0,224.3 L420.4,225.3 L420.8,226.3 L421.2,227.3 L421.6,228.3 L421.9,229.3 L422.3,230.3 L422.6,231.3 L422.9,232.3 L423.2,233.3 L423.5,234.3 L423.8,235.3 L424.0,236.3 L424.3,237.3 L424.5,238.3 L424.7,239.3 L424.9,240.3 L425.0,241.3 L425.1,242.3 L425.3,243.3 L425.3,244.3 L425.4,245.3 L425.4,246.3 L425.4,247.3 L425.4,248.3 L425.4,249.3 L425.3,250.3 L425.2,251.3 L425.0,252.3 L424.9,253.3 L424.7,254.3 L424.4,255.3 L424.2,256.3 L423.9,257.3 L423.6,258.3 L423.3,259.3 L422.9,260.3 L422.5,261.3 L422.1,262.3 L421.7,263.3 L421.2,264.3 L420.8,265.3 L420.3,266.3 L419.8,267.3 L419.3,268.3 L418.7,269.3 L418.2,270.3 L417.6,271.3 L417.1,272.3 L416.5,273.3 L416.0,274.3 L415.4,275.3 L414.9,276.3 L414.3,277.3 L413.8,278.3 L413.2,279.3 L412.7,280.3 L412.2,281.3 L411.7,282.3 L411.2,283.3 L410.7,284.3 L410.2,285.3 L409.8,286.3 L409.3,287.3 L408.9,288.3 L408.6,289.3 L408.2,290.3 L407.9,291.3 L407.6,292.3 L407.3,293.3 L407.2,293.6 L395.0,293.6 L394.9,293.3 L394.6,292.3 L394.3,291.3 L394.0,290.3 L393.6,289.3 L393.3,288.3 L392.9,287.3 L392.4,286.3 L392.0,285.3 L391.5,284.3 L391.0,283.3 L390.5,282.3 L390.0,281.3 L389.5,280.3 L389.0,279.3 L388.4,278.3 L387.9,277.3 L387.3,276.3 L386.8,275.3 L386.2,274.3 L385.7,273.3 L385.1,272.3 L384.6,271.3 L384.0,270.3 L383.5,269.3 L382.9,268.3 L382.4,267.3 L381.9,266.3 L381.4,265.3 L381.0,264.3 L380.5,263.3 L380.1,262.3 L379.7,261.3 L379.3,260.3 L378.9,259.3 L378.6,258.3 L378.3,257.3 L378.0,256.3 L377.8,255.3 L377.5,254.3 L377.3,253.3 L377.2,252.3 L377.0,251.3 L376.9,250.3 L376.8,249.3 L376.8,248.3 L376.8,247.3 L376.8,246.3 L376.8,245.3 L376.9,244.3 L376.9,243.3 L377.1,242.3 L377.2,241.3 L377.3,240.3 L377.5,239.3 L377.7,238.3 L377.9,237.3 L378.2,236.3 L378.4,235.3 L378.7,234.3 L379.0,233.3 L379.3,232.3 L379.6,231.3 L379.9,230.3 L380.3,229.3 L380.6,228.3 L381.0,227.3 L381.4,226.3 L381.8,225.3 L382.2,224.3 L382.6,223.3 L383.0,222.3 L383.4,221.3 L383.8,220.3 L384.2,219.3 L384.7,218.3 L385.1,217.3 L385.5,216.3 L386.0,215.3 L386.4,214.3 L386.8,213.3 L387.3,212.3 L387.7,211.3 L388.1,210.3 L388.5,209.3 L388.9,208.3 L389.3,207.3 L389.7,206.3 L390.1,205.3 L390.4,204.3 L390.8,203.3 L391.1,202.3 L391.4,201.3 L391.7,200.3 L392.0,199.3 L392.3,198.3 L392.6,197.3 L392.8,196.3 L393.1,195.3 L393.3,194.3 L393.6,193.3 L393.8,192.3 L394.0,191.3 L394.3,190.3 L394.5,189.3 L394.7,188.3 L394.9,187.3 L395.0,186.3 L395.2,185.3 L395.4,184.3 L395.6,183.3 L395.7,182.3 L395.9,181.3 L396.1,180.3 L396.2,179.3 L396.4,178.3 L396.5,177.3 L396.7,176.3 L396.8,175.3 L396.9,174.3 L397.1,173.3 L397.2,172.3 L397.4,171.3 L397.5,170.3 L397.6,169.3 L397.8,168.3 L397.9,167.3 L398.0,166.3 L398.2,165.3 L398.3,164.3 L398.4,163.3 L398.5,162.3 L398.6,161.3 L398.7,160.3 L398.9,159.3 L399.0,158.3 L399.1,157.3 L399.2,156.3 L399.3,155.3 L399.4,154.3 L399.4,153.3 L399.5,152.3 L399.6,151.3 L399.7,150.3 L399.7,149.3 L399.8,148.3 L399.9,147.3 L399.9,146.3 L400.0,145.3 L400.0,144.3 L400.0,143.3 L400.1,142.3 L400.1,141.3 L400.1,140.3 L400.1,139.3 L400.1,138.3 L400.1,137.3 L400.1,136.3 L400.1,135.3 L400.1,134.3 L400.1,133.3 L400.1,132.3 L400.0,131.3 L400.0,130.3 L399.9,129.3 L399.8,128.3 L399.8,127.3 L399.8,126.3 Z" fill="#dde9f6" stroke="#69727c" stroke-width="1.0" stroke-linejoin="round"/>
<line x1="401.1" y1="167.4" x2="401.1" y2="220.5" stroke="#69727c" stroke-width="1.0"/>
<line x1="401.1" y1="263.4" x2="401.1" y2="293.6" stroke="#69727c" stroke-width="1.0"/>
<rect x="394.6" y="220.5" width="13.0" height="42.89999999999998" fill="none" stroke="#69727c" stroke-width="1.0"/>
<line x1="394.6" y1="241.8" x2="407.6" y2="241.8" stroke="#262626" stroke-width="1.4"/>
<path d="M457.4,125.5 L457.5,126.5 L457.6,127.5 L457.7,128.5 L457.8,129.5 L457.9,130.5 L458.0,131.5 L458.1,132.5 L458.2,133.5 L458.3,134.5 L458.4,135.5 L458.5,136.5 L458.6,137.5 L458.7,138.5 L458.8,139.5 L458.9,140.5 L459.0,141.5 L459.1,142.5 L459.2,143.5 L459.4,144.5 L459.5,145.5 L459.6,146.5 L459.7,147.5 L459.9,148.5 L460.0,149.5 L460.1,150.5 L460.3,151.5 L460.4,152.5 L460.6,153.5 L460.7,154.5 L460.8,155.5 L461.0,156.5 L461.2,157.5 L461.3,158.5 L461.5,159.5 L461.7,160.5 L461.8,161.5 L462.0,162.5 L462.2,163.5 L462.4,164.5 L462.6,165.5 L462.7,166.5 L462.9,167.5 L463.1,168.5 L463.3,169.5 L463.6,170.5 L463.8,171.5 L464.0,172.5 L464.2,173.5 L464.4,174.5 L464.7,175.5 L464.9,176.5 L465.1,177.5 L465.4,178.5 L465.6,179.5 L465.9,180.5 L466.1,181.5 L466.4,182.5 L466.6,183.5 L466.8,184.5 L467.1,185.5 L467.3,186.5 L467.5,187.5 L467.8,188.5 L468.0,189.5 L468.2,190.5 L468.4,191.5 L468.6,192.5 L468.7,193.5 L468.9,194.5 L469.1,195.5 L469.2,196.5 L469.4,197.5 L469.5,198.5 L469.6,199.5 L469.7,200.5 L469.8,201.5 L469.9,202.5 L469.9,203.5 L470.0,204.5 L470.0,205.5 L470.1,206.5 L470.1,207.5 L470.1,208.5 L470.1,209.5 L470.1,210.5 L470.1,211.5 L470.1,212.5 L470.1,213.5 L470.0,214.5 L470.0,215.5 L469.9,216.5 L469.9,217.5 L469.8,218.5 L469.7,219.5 L469.6,220.5 L469.5,221.5 L469.4,222.5 L469.3,223.5 L469.2,224.5 L469.1,225.5 L469.0,226.5 L468.9,227.5 L468.8,228.5 L468.7,229.5 L468.6,230.5 L468.5,231.5 L468.4,232.5 L468.3,233.5 L468.2,234.5 L468.1,235.5 L468.0,236.5 L467.9,237.5 L467.8,238.5 L467.8,239.5 L467.7,240.5 L467.6,241.5 L467.6,242.5 L467.5,243.5 L467.5,244.5 L467.5,245.5 L467.4,246.5 L467.4,247.5 L467.4,248.5 L467.3,249.5 L467.3,250.5 L467.3,251.5 L467.3,252.5 L467.3,253.5 L467.2,254.5 L467.2,255.5 L467.2,256.5 L467.2,257.5 L467.2,258.5 L467.1,259.5 L467.1,260.5 L467.1,261.5 L467.1,262.5 L467.0,263.5 L467.0,264.5 L467.0,265.5 L466.9,266.5 L466.9,267.5 L466.8,268.5 L466.7,269.5 L466.7,270.5 L466.6,271.5 L466.5,272.5 L466.4,273.5 L466.3,274.5 L466.2,275.5 L466.1,276.5 L465.9,277.5 L465.8,278.5 L465.6,279.5 L465.5,280.5 L465.3,281.5 L465.1,282.5 L464.9,283.5 L464.7,284.5 L464.4,285.5 L464.2,286.5 L463.9,287.5 L463.6,288.5 L463.3,289.5 L463.0,290.5 L462.7,291.5 L462.3,292.5 L461.9,293.5 L461.8,294.2 L447.4,294.2 L447.3,293.5 L446.9,292.5 L446.5,291.5 L446.2,290.5 L445.9,289.5 L445.6,288.5 L445.3,287.5 L445.0,286.5 L444.8,285.5 L444.5,284.5 L444.3,283.5 L444.1,282.5 L443.9,281.5 L443.7,280.5 L443.6,279.5 L443.4,278.5 L443.3,277.5 L443.1,276.5 L443.0,275.5 L442.9,274.5 L442.8,273.5 L442.7,272.5 L442.6,271.5 L442.5,270.5 L442.5,269.5 L442.4,268.5 L442.3,267.5 L442.3,266.5 L442.2,265.5 L442.2,264.5 L442.2,263.5 L442.1,262.5 L442.1,261.5 L442.1,260.5 L442.1,259.5 L442.0,258.5 L442.0,257.5 L442.0,256.5 L442.0,255.5 L442.0,254.5 L441.9,253.5 L441.9,252.5 L441.9,251.5 L441.9,250.5 L441.9,249.5 L441.8,248.5 L441.8,247.5 L441.8,246.5 L441.7,245.5 L441.7,244.5 L441.7,243.5 L441.6,242.5 L441.6,241.5 L441.5,240.5 L441.4,239.5 L441.4,238.5 L441.3,237.5 L441.2,236.5 L441.1,235.5 L441.0,234.5 L440.9,233.5 L440.8,232.5 L440.7,231.5 L440.6,230.5 L440.5,229.5 L440.4,228.5 L440.3,227.5 L440.2,226.5 L440.1,225.5 L440.0,224.5 L439.9,223.5 L439.8,222.5 L439.7,221.5 L439.6,220.5 L439.5,219.5 L439.4,218.5 L439.3,217.5 L439.3,216.5 L439.2,215.5 L439.2,214.5 L439.1,213.5 L439.1,212.5 L439.1,211.5 L439.1,210.5 L439.1,209.5 L439.1,208.5 L439.1,207.5 L439.1,206.5 L439.2,205.5 L439.2,204.5 L439.3,203.5 L439.3,202.5 L439.4,201.5 L439.5,200.5 L439.6,199.5 L439.7,198.5 L439.8,197.5 L440.0,196.5 L440.1,195.5 L440.3,194.5 L440.5,193.5 L440.6,192.5 L440.8,191.5 L441.0,190.5 L441.2,189.5 L441.4,188.5 L441.7,187.5 L441.9,186.5 L442.1,185.5 L442.4,184.5 L442.6,183.5 L442.8,182.5 L443.1,181.5 L443.3,180.5 L443.6,179.5 L443.8,178.5 L444.1,177.5 L444.3,176.5 L444.5,175.5 L444.8,174.5 L445.0,173.5 L445.2,172.5 L445.4,171.5 L445.6,170.5 L445.9,169.5 L446.1,168.5 L446.3,167.5 L446.5,166.5 L446.6,165.5 L446.8,164.5 L447.0,163.5 L447.2,162.5 L447.4,161.5 L447.5,160.5 L447.7,159.5 L447.9,158.5 L448.0,157.5 L448.2,156.5 L448.4,155.5 L448.5,154.5 L448.6,153.5 L448.8,152.5 L448.9,151.5 L449.1,150.5 L449.2,149.5 L449.3,148.5 L449.5,147.5 L449.6,146.5 L449.7,145.5 L449.8,144.5 L450.0,143.5 L450.1,142.5 L450.2,141.5 L450.3,140.5 L450.4,139.5 L450.5,138.5 L450.6,137.5 L450.7,136.5 L450.8,135.5 L450.9,134.5 L451.0,133.5 L451.1,132.5 L451.2,131.5 L451.3,130.5 L451.4,129.5 L451.5,128.5 L451.6,127.5 L451.7,126.5 L451.8,125.5 Z" fill="#6cb0dc" stroke="#46617a" stroke-width="1.0" stroke-linejoin="round"/>
<line x1="454.6" y1="125.5" x2="454.6" y2="195.4" stroke="#46617a" stroke-width="1.0"/>
<line x1="454.6" y1="260" x2="454.6" y2="294.2" stroke="#46617a" stroke-width="1.0"/>
<rect x="447.8" y="195.4" width="13.6" height="64.6" fill="none" stroke="#46617a" stroke-width="1.0"/>
<line x1="447.8" y1="213.4" x2="461.40000000000003" y2="213.4" stroke="#262626" stroke-width="1.4"/>
<path d="M514.2,87.9 L514.1,88.9 L514.3,89.9 L514.4,90.9 L514.6,91.9 L514.7,92.9 L514.9,93.9 L515.0,94.9 L515.2,95.9 L515.3,96.9 L515.5,97.9 L515.6,98.9 L515.7,99.9 L515.9,100.9 L516.0,101.9 L516.2,102.9 L516.3,103.9 L516.4,104.9 L516.5,105.9 L516.7,106.9 L516.8,107.9 L516.9,108.9 L517.0,109.9 L517.1,110.9 L517.3,111.9 L517.4,112.9 L517.5,113.9 L517.6,114.9 L517.7,115.9 L517.8,116.9 L517.9,117.9 L518.0,118.9 L518.1,119.9 L518.2,120.9 L518.3,121.9 L518.4,122.9 L518.5,123.9 L518.6,124.9 L518.7,125.9 L518.8,126.9 L518.8,127.9 L518.9,128.9 L519.0,129.9 L519.1,130.9 L519.2,131.9 L519.2,132.9 L519.3,133.9 L519.4,134.9 L519.4,135.9 L519.5,136.9 L519.6,137.9 L519.6,138.9 L519.7,139.9 L519.8,140.9 L519.8,141.9 L519.9,142.9 L519.9,143.9 L520.0,144.9 L520.0,145.9 L520.1,146.9 L520.1,147.9 L520.2,148.9 L520.2,149.9 L520.2,150.9 L520.3,151.9 L520.3,152.9 L520.4,153.9 L520.4,154.9 L520.4,155.9 L520.5,156.9 L520.5,157.9 L520.5,158.9 L520.5,159.9 L520.5,160.9 L520.6,161.9 L520.6,162.9 L520.6,163.9 L520.6,164.9 L520.6,165.9 L520.6,166.9 L520.7,167.9 L520.7,168.9 L520.7,169.9 L520.7,170.9 L520.7,171.9 L520.7,172.9 L520.7,173.9 L520.7,174.9 L520.7,175.9 L520.7,176.9 L520.6,177.9 L520.6,178.9 L520.6,179.9 L520.6,180.9 L520.6,181.9 L520.6,182.9 L520.6,183.9 L520.5,184.9 L520.5,185.9 L520.5,186.9 L520.5,187.9 L520.4,188.9 L520.4,189.9 L520.4,190.9 L520.3,191.9 L520.3,192.9 L520.3,193.9 L520.2,194.9 L520.2,195.9 L520.2,196.9 L520.1,197.9 L520.1,198.9 L520.0,199.9 L520.0,200.9 L519.9,201.9 L519.9,202.9 L519.8,203.9 L519.8,204.9 L519.7,205.9 L519.6,206.9 L519.6,207.9 L519.5,208.9 L519.5,209.9 L519.4,210.9 L519.3,211.9 L519.3,212.9 L519.2,213.9 L519.1,214.9 L519.1,215.9 L519.0,216.9 L518.9,217.9 L518.8,218.9 L518.7,219.9 L518.7,220.9 L518.6,221.9 L518.5,222.9 L518.4,223.9 L518.3,224.9 L518.2,225.9 L518.1,226.9 L518.1,227.9 L518.0,228.9 L517.9,229.9 L517.8,230.9 L517.7,231.9 L517.6,232.9 L517.5,233.9 L517.4,234.9 L517.3,235.9 L517.2,236.9 L517.0,237.9 L516.9,238.9 L516.8,239.9 L516.7,240.9 L516.6,241.9 L516.5,242.9 L516.4,243.9 L516.3,244.9 L516.1,245.9 L516.0,246.9 L515.9,247.9 L515.8,248.9 L515.6,249.9 L515.5,250.9 L515.4,251.9 L515.3,252.9 L515.1,253.9 L515.0,254.9 L514.9,255.9 L514.7,256.9 L514.6,257.9 L514.4,258.9 L514.3,259.9 L514.2,260.9 L514.0,261.9 L513.9,262.9 L513.7,263.9 L513.6,264.9 L513.4,265.9 L513.3,266.9 L513.1,267.9 L513.0,268.9 L512.8,269.9 L512.7,270.9 L512.5,271.9 L512.3,272.9 L512.2,273.9 L512.0,274.9 L511.9,275.9 L511.7,276.9 L511.5,277.9 L511.4,278.9 L511.2,279.9 L511.0,280.9 L510.8,281.9 L510.9,282.2 L505.7,282.2 L505.8,281.9 L505.6,280.9 L505.4,279.9 L505.2,278.9 L505.1,277.9 L504.9,276.9 L504.7,275.9 L504.6,274.9 L504.4,273.9 L504.3,272.9 L504.1,271.9 L503.9,270.9 L503.8,269.9 L503.6,268.9 L503.5,267.9 L503.3,266.9 L503.2,265.9 L503.0,264.9 L502.9,263.9 L502.7,262.9 L502.6,261.9 L502.4,260.9 L502.3,259.9 L502.2,258.9 L502.0,257.9 L501.9,256.9 L501.7,255.9 L501.6,254.9 L501.5,253.9 L501.3,252.9 L501.2,251.9 L501.1,250.9 L501.0,249.9 L500.8,248.9 L500.7,247.9 L500.6,246.9 L500.5,245.9 L500.3,244.9 L500.2,243.9 L500.1,242.9 L500.0,241.9 L499.9,240.9 L499.8,239.9 L499.7,238.9 L499.6,237.9 L499.4,236.9 L499.3,235.9 L499.2,234.9 L499.1,233.9 L499.0,232.9 L498.9,231.9 L498.8,230.9 L498.7,229.9 L498.6,228.9 L498.5,227.9 L498.5,226.9 L498.4,225.9 L498.3,224.9 L498.2,223.9 L498.1,222.9 L498.0,221.9 L497.9,220.9 L497.9,219.9 L497.8,218.9 L497.7,217.9 L497.6,216.9 L497.5,215.9 L497.5,214.9 L497.4,213.9 L497.3,212.9 L497.3,211.9 L497.2,210.9 L497.1,209.9 L497.1,208.9 L497.0,207.9 L497.0,206.9 L496.9,205.9 L496.8,204.9 L496.8,203.9 L496.7,202.9 L496.7,201.9 L496.6,200.9 L496.6,199.9 L496.5,198.9 L496.5,197.9 L496.4,196.9 L496.4,195.9 L496.4,194.9 L496.3,193.9 L496.3,192.9 L496.3,191.9 L496.2,190.9 L496.2,189.9 L496.2,188.9 L496.1,187.9 L496.1,186.9 L496.1,185.9 L496.1,184.9 L496.0,183.9 L496.0,182.9 L496.0,181.9 L496.0,180.9 L496.0,179.9 L496.0,178.9 L496.0,177.9 L495.9,176.9 L495.9,175.9 L495.9,174.9 L495.9,173.9 L495.9,172.9 L495.9,171.9 L495.9,170.9 L495.9,169.9 L495.9,168.9 L495.9,167.9 L496.0,166.9 L496.0,165.9 L496.0,164.9 L496.0,163.9 L496.0,162.9 L496.0,161.9 L496.1,160.9 L496.1,159.9 L496.1,158.9 L496.1,157.9 L496.1,156.9 L496.2,155.9 L496.2,154.9 L496.2,153.9 L496.3,152.9 L496.3,151.9 L496.4,150.9 L496.4,149.9 L496.4,148.9 L496.5,147.9 L496.5,146.9 L496.6,145.9 L496.6,144.9 L496.7,143.9 L496.7,142.9 L496.8,141.9 L496.8,140.9 L496.9,139.9 L497.0,138.9 L497.0,137.9 L497.1,136.9 L497.2,135.9 L497.2,134.9 L497.3,133.9 L497.4,132.9 L497.4,131.9 L497.5,130.9 L497.6,129.9 L497.7,128.9 L497.8,127.9 L497.8,126.9 L497.9,125.9 L498.0,124.9 L498.1,123.9 L498.2,122.9 L498.3,121.9 L498.4,120.9 L498.5,119.9 L498.6,118.9 L498.7,117.9 L498.8,116.9 L498.9,115.9 L499.0,114.9 L499.1,113.9 L499.2,112.9 L499.3,111.9 L499.5,110.9 L499.6,109.9 L499.7,108.9 L499.8,107.9 L499.9,106.9 L500.1,105.9 L500.2,104.9 L500.3,103.9 L500.4,102.9 L500.6,101.9 L500.7,100.9 L500.9,99.9 L501.0,98.9 L501.1,97.9 L501.3,96.9 L501.4,95.9 L501.6,94.9 L501.7,93.9 L501.9,92.9 L502.0,91.9 L502.2,90.9 L502.3,89.9 L502.5,88.9 L502.4,87.9 Z" fill="#2a77bd" stroke="#2d4a66" stroke-width="1.0" stroke-linejoin="round"/>
<line x1="508.3" y1="87.9" x2="508.3" y2="137" stroke="#2d4a66" stroke-width="1.0"/>
<line x1="508.3" y1="223.2" x2="508.3" y2="282.2" stroke="#2d4a66" stroke-width="1.0"/>
<rect x="501.7" y="137" width="13.2" height="86.19999999999999" fill="none" stroke="#2d4a66" stroke-width="1.0"/>
<line x1="501.7" y1="173.9" x2="514.9" y2="173.9" stroke="#262626" stroke-width="1.4"/>
<line x1="315.2" y1="18" x2="315.2" y2="334.6" stroke="#222" stroke-width="1.4"/>
<line x1="314.5" y1="333.9" x2="540.7" y2="333.9" stroke="#222" stroke-width="1.5"/>
<line x1="309.7" y1="87.9" x2="315.2" y2="87.9" stroke="#222" stroke-width="1.2"/>
<text x="0" y="0" transform="translate(305.8 88.30000000000001) rotate(-90) scale(1 0.97)" text-anchor="end" class="tk" style="stroke-width:0.4px">100,000</text>
<line x1="309.7" y1="179.5" x2="315.2" y2="179.5" stroke="#222" stroke-width="1.2"/>
<text x="0" y="0" transform="translate(305.8 179.9) rotate(-90) scale(1 0.97)" text-anchor="end" class="tk" style="stroke-width:0.4px">10,000</text>
<line x1="309.7" y1="271.5" x2="315.2" y2="271.5" stroke="#222" stroke-width="1.2"/>
<text x="0" y="0" transform="translate(305.8 271.9) rotate(-90) scale(1 0.97)" text-anchor="end" class="tk" style="stroke-width:0.4px">1,000</text>
<line x1="347.8" y1="333.9" x2="347.8" y2="339.8" stroke="#222" stroke-width="1.2"/>
<text x="0" y="0" transform="translate(347.8 350)" text-anchor="middle" class="tk">94−236</text>
<text x="0" y="0" transform="translate(347.8 320.2)" text-anchor="middle" class="n">n = 44</text>
<line x1="401.3" y1="333.9" x2="401.3" y2="339.8" stroke="#222" stroke-width="1.2"/>
<text x="0" y="0" transform="translate(401.3 350)" text-anchor="middle" class="tk">239−372</text>
<text x="0" y="0" transform="translate(401.3 320.2)" text-anchor="middle" class="n">n = 44</text>
<line x1="454.8" y1="333.9" x2="454.8" y2="339.8" stroke="#222" stroke-width="1.2"/>
<text x="0" y="0" transform="translate(454.8 350)" text-anchor="middle" class="tk">373−664</text>
<text x="0" y="0" transform="translate(454.8 320.2)" text-anchor="middle" class="n">n = 44</text>
<line x1="508.3" y1="333.9" x2="508.3" y2="339.8" stroke="#222" stroke-width="1.2"/>
<text x="0" y="0" transform="translate(508.3 350)" text-anchor="middle" class="tk">664−21,660</text>
<text x="0" y="0" transform="translate(508.3 320.2)" text-anchor="middle" class="n">n = 44</text>
<text x="291.7" y="176" transform="rotate(-90 291.7 176)" text-anchor="middle" class="tt">Maximum ferritin [µg/L]</text>
<text x="156" y="365.9" text-anchor="middle" class="tt">AST quartiles of</text>
<text x="157.3" y="378.7" text-anchor="middle" class="tt">liver disease [U/L]</text>
<text x="429.2" y="365.9" text-anchor="middle" class="tt">LDH quartiles of</text>
<text x="429.7" y="378.7" text-anchor="middle" class="tt">hematological malignancy [U/L]</text>
</svg>
</body></html>
